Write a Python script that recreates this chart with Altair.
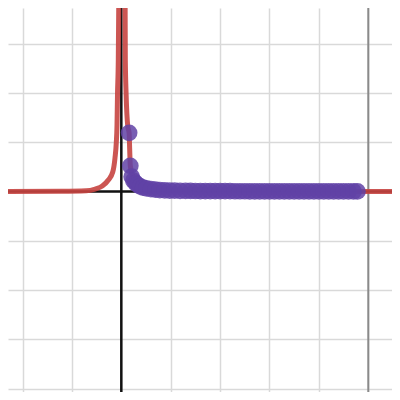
import altair as alt
import pandas as pd

# ---- data ----
X_DOMAIN = [-2.294, 5.480]
Y_DOMAIN = [-4.067, 3.722]

grid_x = [-2, -1, 0, 1, 2, 3, 4, 5]
grid_y = [-4, -3, -2, -1, 0, 1, 2, 3]

axis_x0 = [0]
axis_y0 = [0]
dark_line_x = [5]

red_left_x = [-2.45, -1.21, -0.71, -0.53, -0.385, -0.263, -0.172, -0.128, -0.101, -0.087, -0.077, -0.061, -0.051, -0.045]
red_left_y = [0.0, 0.005, 0.015, 0.05, 0.11, 0.233, 0.40, 0.68, 1.00, 1.35, 1.98, 2.67, 3.88, 5.0]

red_right_x = [0.072, 0.077, 0.081, 0.097, 0.132, 0.158, 0.170, 0.182, 0.233, 0.304, 0.405, 0.567, 0.81, 1.32, 2.5, 5.7]
red_right_y = [5.0, 3.88, 2.67, 1.98, 1.31, 1.19, 0.84, 0.52, 0.31, 0.19, 0.11, 0.06, 0.03, 0.01, 0.003, 0.0]

purple_x = [0.158, 0.182, 0.21, 0.245, 0.287, 0.33, 0.38, 0.44, 0.51, 0.6,
            0.69, 0.78, 0.88, 0.98, 1.08, 1.19,
            1.3, 1.4, 1.5, 1.6, 1.7, 1.8, 1.9, 2.0, 2.1, 2.2,
            2.3, 2.4, 2.5, 2.6, 2.7, 2.8, 2.9, 3.0, 3.1, 3.2,
            3.3, 3.4, 3.5, 3.6, 3.7, 3.8, 3.9, 4.0, 4.1, 4.2,
            4.3, 4.4, 4.5, 4.6, 4.7, 4.78]
purple_y = [1.19, 0.52, 0.30, 0.22, 0.172, 0.135, 0.105, 0.08, 0.062, 0.047,
            0.038, 0.030, 0.024, 0.020, 0.017, 0.014,
            0.012, 0.011, 0.010, 0.009, 0.008, 0.008, 0.007, 0.007, 0.006, 0.006,
            0.005, 0.005, 0.005, 0.004, 0.004, 0.004, 0.004, 0.003, 0.003, 0.003,
            0.003, 0.003, 0.003, 0.002, 0.002, 0.002, 0.002, 0.002, 0.002, 0.002,
            0.002, 0.002, 0.001, 0.001, 0.001, 0.001]

# ---- tables ----
red_df = pd.DataFrame({
    "x": red_left_x + red_right_x,
    "y": red_left_y + red_right_y,
    "branch": ["left"] * len(red_left_x) + ["right"] * len(red_right_x),
})
purple_df = pd.DataFrame({"x": purple_x, "y": purple_y})

xscale = alt.Scale(domain=X_DOMAIN, nice=False, zero=False)
yscale = alt.Scale(domain=Y_DOMAIN, nice=False, zero=False)


def X(field="x"):
    return alt.X(f"{field}:Q", scale=xscale, axis=alt.Axis(values=grid_x, title=None))


def Y(field="y"):
    return alt.Y(f"{field}:Q", scale=yscale, axis=alt.Axis(values=grid_y, title=None))


# invisible layer carrying the grid
grid_layer = alt.Chart(purple_df).mark_point(opacity=0).encode(x=X(), y=Y())

dark_line = alt.Chart(pd.DataFrame({"x": dark_line_x})).mark_rule(
    color="#8a8a8a", strokeWidth=2
).encode(x=X())

vaxis = alt.Chart(pd.DataFrame({"x": axis_x0})).mark_rule(
    color="#111111", strokeWidth=2.5
).encode(x=X())

haxis = alt.Chart(pd.DataFrame({"y": axis_y0})).mark_rule(
    color="#111111", strokeWidth=2.5
).encode(y=Y())

red = alt.Chart(red_df).mark_line(
    color="#c74440", strokeWidth=5, opacity=0.9, clip=True, interpolate="monotone",
    strokeCap="round", strokeJoin="round"
).encode(x=X(), y=Y(), detail="branch:N", order="x:Q")

purple = alt.Chart(purple_df).mark_circle(
    color="#6042a6", size=280, opacity=0.85, clip=True
).encode(x=X(), y=Y())

chart = alt.layer(grid_layer, dark_line, vaxis, haxis, red, purple).properties(
    width=384, height=384, padding=0, autosize="none", background="white"
).configure_axis(
    grid=True, labels=False, ticks=False, domain=False,
    gridColor="#d9d9d9", gridWidth=1.5, gridOpacity=1
).configure_view(strokeWidth=0)

chart.save("out.html", embed_options={"renderer": "svg", "actions": False})
